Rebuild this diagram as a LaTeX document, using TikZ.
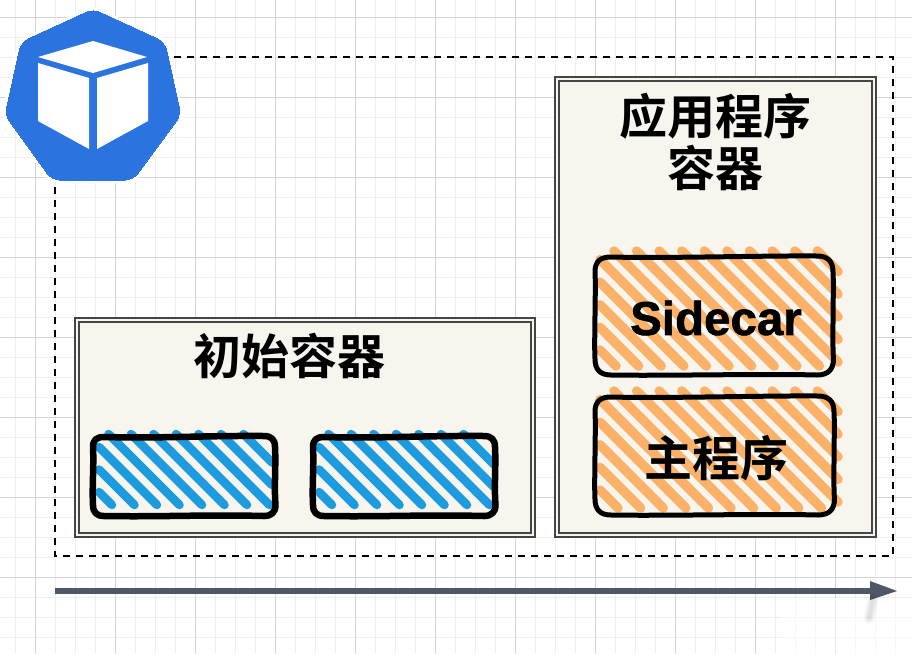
\documentclass[tikz,border=0pt]{standalone}
\usepackage{fontspec}
\setmainfont{Liberation Sans}[BoldFeatures={FakeBold=1.2}]
\newfontfamily\cjk{Noto Sans CJK SC}[BoldFont={Noto Sans CJK SC Bold}]
\definecolor{gridmajor}{HTML}{D4D4D4}
\definecolor{gridminor}{HTML}{EFEFEF}
\definecolor{panelfill}{HTML}{F7F5EE}
\definecolor{paneledge}{HTML}{454545}
\definecolor{kblue}{HTML}{2B74E0}
\definecolor{hatchblue}{HTML}{1C9BDE}
\definecolor{hatchorange}{HTML}{FBB268}
\definecolor{arrowgray}{HTML}{4F5866}
\tikzset{
  panel/.style={draw=paneledge,line width=1.6pt,fill=panelfill},
  panelinner/.style={draw=paneledge,line width=1.2pt},
  hatchline/.style={line cap=round},
  rough/.style={draw=black,line width=5pt,line cap=round,line join=round},
  title/.style={font=\fontsize{48}{52}\selectfont\bfseries\cjk,align=center,inner sep=0pt,text=black},
}
% #1 colour and width, #2 xl, #3 yt, #4 xr, #5 yb, #6 first d, #7 second d, #8 last d
\newcommand{\hatchbox}[8]{%
  \foreach \d in {#6,#7,...,#8}{%
    \pgfmathsetmacro{\xa}{max(#2,#3+\d)}%
    \pgfmathsetmacro{\xb}{min(#4,#5+\d)}%
    \draw[hatchline,#1] (\xa,\xa-\d) -- (\xb,\xb-\d);
  }%
}
% hand-drawn rounded box: #1 style, #2 x1, #3 y1, #4 x2, #5 y2, #6 corner radius
\newcommand{\roughbox}[6]{%
  \draw[rough,#1] (#2+#6,#3+1)
    .. controls (#2+70,#3+2.5) and (#4-70,#3-0.5) .. (#4-#6,#3)
    .. controls (#4-#6/3,#3) and (#4,#3+#6/3) .. (#4,#3+#6)
    .. controls (#4+1,#3+30) and (#4-1,#5-30) .. (#4+0.5,#5-#6)
    .. controls (#4+0.5,#5-#6/3) and (#4-#6/3,#5) .. (#4-#6,#5)
    .. controls (#4-70,#5-1.5) and (#2+70,#5+1) .. (#2+#6,#5)
    .. controls (#2+#6/3,#5) and (#2,#5-#6/3) .. (#2,#5-#6)
    .. controls (#2-1,#5-30) and (#2+1,#3+30) .. (#2,#3+#6)
    .. controls (#2,#3+#6/3) and (#2+#6/3,#3+1) .. (#2+#6,#3+1) -- cycle;
}
\begin{document}
\begin{tikzpicture}[x=1pt,y=-1pt]
\useasboundingbox (0,0) rectangle (912,654);
\fill[white] (0,0) rectangle (912,654);
% grid
\foreach \x in {-5,15,...,915} \draw[gridminor,line width=1pt] (\x,0) -- (\x,654);
\foreach \y in {-3,17,...,657} \draw[gridminor,line width=1pt] (0,\y) -- (912,\y);
\foreach \x in {35,115,...,915} \draw[gridmajor,line width=1pt] (\x,0) -- (\x,654);
\foreach \y in {17,97,...,657} \draw[gridmajor,line width=1pt] (0,\y) -- (912,\y);
% fade of the grid under the arrow end
\fill[white,opacity=.55] (780,598) rectangle (912,654);
% dashed frame
\draw[black,line width=1.6pt,dash pattern=on 7pt off 6pt] (55,57) rectangle (893,556);
% panels
\draw[panel] (75,318) rectangle (535,537);
\draw[panelinner] (79,322) rectangle (531,533);
\draw[panel] (555,77) rectangle (876,537);
\draw[panelinner] (559,81) rectangle (872,533);
% blue boxes
\hatchbox{hatchblue,line width=8.5pt}{99}{434}{272}{505}{-393}{-370.5}{-190}
\hatchbox{hatchblue,line width=8.5pt}{319}{434}{494}{505}{-173}{-150.5}{30}
\roughbox{line width=6.5pt}{93}{436}{275}{516}{11}
\roughbox{line width=6.5pt}{313}{436}{495}{516}{11}
% orange boxes
\hatchbox{hatchorange,line width=9.5pt}{600}{251}{838}{366}{250}{272.6}{570}
\hatchbox{hatchorange,line width=9.5pt}{600}{391}{838}{508}{110}{132.6}{430}
\roughbox{line width=5pt}{595}{256}{833}{375}{16}
\roughbox{line width=5pt}{595}{396}{834}{515}{16}
% texts
\node[title] (inittitle) at (289,356) {初始容器};
\node[title] (apptitle) at (715,142) {应用程序\\容器};
\node[font=\fontsize{47.5}{52}\selectfont\bfseries,inner sep=0pt] (sidecar) at (716,318) {Sidecar};
\node[title] (mainlabel) at (716,458) {主程序};
% logo
\filldraw[kblue,line width=0pt,preaction={draw=white,line width=6pt,line join=round,rounded corners=8pt},rounded corners=8pt]
  (93,9) -- (165,42) -- (181,115) -- (133,180) -- (52,180) -- (5,115) -- (21,42) -- cycle;
\fill[white] (93,41) -- (147,57) -- (93,73) -- (38,57) -- cycle;
\fill[white] (38,63) -- (89,78) -- (89,149) -- (38,121) -- cycle;
\fill[white] (97,78) -- (148,63) -- (148,121) -- (97,149) -- cycle;
% timeline
\coordinate (tstart) at (55,591);
\coordinate (tend) at (897,591);
\draw[arrowgray,line width=5.5pt] (tstart) -- (872,591);
\fill[arrowgray] (870,581) -- (tend) -- (870,600) -- cycle;
\foreach \o/\w in {.025/12,.03/9,.035/6,.04/3} \draw[black,opacity=\o,line width=\w pt,line cap=round] (873,600) -- (869,618);
\end{tikzpicture}
\end{document}
